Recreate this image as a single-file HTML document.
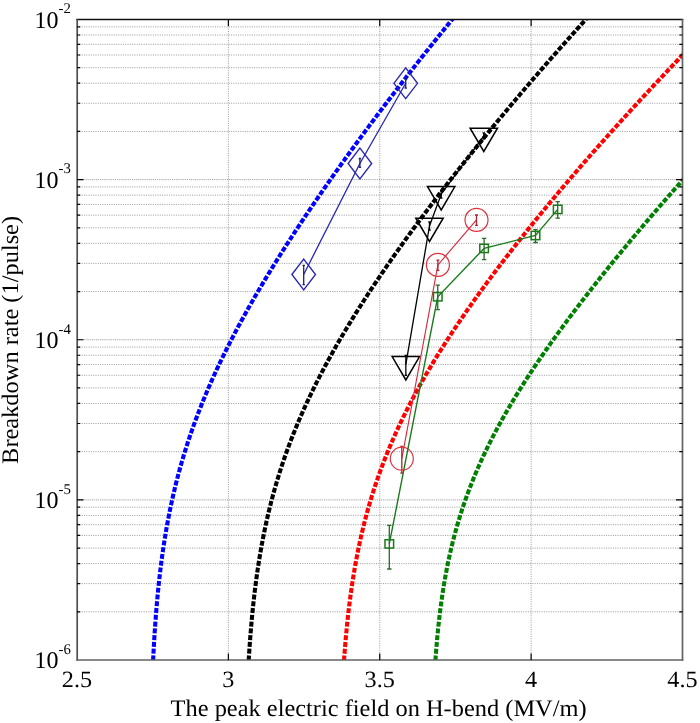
<!DOCTYPE html>
<html><head><meta charset="utf-8"><style>
html,body{margin:0;padding:0;background:#fff;}
body{width:700px;height:723px;overflow:hidden;}
svg{display:block;}
.gm{stroke:#9a9a9a;stroke-width:1;stroke-dasharray:1 1.3;}
.gM{stroke:#9a9a9a;stroke-width:1;stroke-dasharray:1 0.9;}
.gv{stroke:#9a9a9a;stroke-width:1;stroke-dasharray:1 1.3;}
text{font-family:"Liberation Serif","Times New Roman",serif;fill:#000;text-rendering:geometricPrecision;}
.tk{font-size:23.3px;}
.tk2{font-size:24px;}
.sup{font-size:14.8px;}
.lab{font-size:23.7px;}
</style></head><body>
<svg width="700" height="723" viewBox="0 0 700 723">
<defs><clipPath id="ax"><rect x="77.00" y="19.50" width="605.50" height="640.50"/></clipPath></defs>
<g><line x1="77.0" y1="611.80" x2="682.5" y2="611.80" class="gm"/><line x1="77.0" y1="583.60" x2="682.5" y2="583.60" class="gm"/><line x1="77.0" y1="563.60" x2="682.5" y2="563.60" class="gm"/><line x1="77.0" y1="548.08" x2="682.5" y2="548.08" class="gm"/><line x1="77.0" y1="535.40" x2="682.5" y2="535.40" class="gm"/><line x1="77.0" y1="524.68" x2="682.5" y2="524.68" class="gm"/><line x1="77.0" y1="515.39" x2="682.5" y2="515.39" class="gm"/><line x1="77.0" y1="507.20" x2="682.5" y2="507.20" class="gm"/><line x1="77.0" y1="499.88" x2="682.5" y2="499.88" class="gM"/><line x1="77.0" y1="451.67" x2="682.5" y2="451.67" class="gm"/><line x1="77.0" y1="423.48" x2="682.5" y2="423.48" class="gm"/><line x1="77.0" y1="403.47" x2="682.5" y2="403.47" class="gm"/><line x1="77.0" y1="387.95" x2="682.5" y2="387.95" class="gm"/><line x1="77.0" y1="375.27" x2="682.5" y2="375.27" class="gm"/><line x1="77.0" y1="364.55" x2="682.5" y2="364.55" class="gm"/><line x1="77.0" y1="355.27" x2="682.5" y2="355.27" class="gm"/><line x1="77.0" y1="347.08" x2="682.5" y2="347.08" class="gm"/><line x1="77.0" y1="339.75" x2="682.5" y2="339.75" class="gM"/><line x1="77.0" y1="291.55" x2="682.5" y2="291.55" class="gm"/><line x1="77.0" y1="263.35" x2="682.5" y2="263.35" class="gm"/><line x1="77.0" y1="243.35" x2="682.5" y2="243.35" class="gm"/><line x1="77.0" y1="227.83" x2="682.5" y2="227.83" class="gm"/><line x1="77.0" y1="215.15" x2="682.5" y2="215.15" class="gm"/><line x1="77.0" y1="204.43" x2="682.5" y2="204.43" class="gm"/><line x1="77.0" y1="195.14" x2="682.5" y2="195.14" class="gm"/><line x1="77.0" y1="186.95" x2="682.5" y2="186.95" class="gm"/><line x1="77.0" y1="179.62" x2="682.5" y2="179.62" class="gM"/><line x1="77.0" y1="131.42" x2="682.5" y2="131.42" class="gm"/><line x1="77.0" y1="103.23" x2="682.5" y2="103.23" class="gm"/><line x1="77.0" y1="83.22" x2="682.5" y2="83.22" class="gm"/><line x1="77.0" y1="67.70" x2="682.5" y2="67.70" class="gm"/><line x1="77.0" y1="55.02" x2="682.5" y2="55.02" class="gm"/><line x1="77.0" y1="44.30" x2="682.5" y2="44.30" class="gm"/><line x1="77.0" y1="35.02" x2="682.5" y2="35.02" class="gm"/><line x1="77.0" y1="26.83" x2="682.5" y2="26.83" class="gm"/><line x1="228.38" y1="19.5" x2="228.38" y2="660.0" class="gv"/><line x1="379.75" y1="19.5" x2="379.75" y2="660.0" class="gv"/><line x1="531.12" y1="19.5" x2="531.12" y2="660.0" class="gv"/></g>
<g clip-path="url(#ax)"><g transform="scale(1,1)" fill="none" stroke-width="4.100" stroke-dasharray="5 1.8">
<path d="M151.29,708.04 L151.32,706.98 L151.35,705.93 L151.39,704.88 L151.42,703.82 L151.45,702.77 L151.48,701.71 L151.52,700.66 L151.55,699.61 L151.58,698.55 L151.62,697.50 L151.65,696.45 L151.69,695.39 L151.72,694.34 L151.76,693.28 L151.79,692.23 L151.83,691.18 L151.87,690.12 L151.90,689.07 L151.94,688.02 L151.98,686.96 L152.02,685.91 L152.06,684.85 L152.10,683.80 L152.14,682.75 L152.18,681.69 L152.22,680.64 L152.26,679.59 L152.30,678.53 L152.35,677.48 L152.39,676.42 L152.43,675.37 L152.48,674.32 L152.52,673.26 L152.56,672.21 L152.61,671.16 L152.66,670.10 L152.70,669.05 L152.75,667.99 L152.80,666.94 L152.85,665.89 L152.89,664.83 L152.94,663.78 L152.99,662.73 L153.04,661.67 L153.09,660.62 L153.15,659.56 L153.20,658.51 L153.25,657.46 L153.30,656.40 L153.36,655.35 L153.41,654.30 L153.47,653.24 L153.52,652.19 L153.58,651.13 L153.63,650.08 L153.69,649.03 L153.75,647.97 L153.81,646.92 L153.87,645.87 L153.93,644.81 L153.99,643.76 L154.05,642.70 L154.11,641.65 L154.18,640.60 L154.24,639.54 L154.30,638.49 L154.37,637.44 L154.43,636.38 L154.50,635.33 L154.57,634.27 L154.64,633.22 L154.70,632.17 L154.77,631.11 L154.84,630.06 L154.92,629.01 L154.99,627.95 L155.06,626.90 L155.13,625.84 L155.21,624.79 L155.28,623.74 L155.36,622.68 L155.43,621.63 L155.51,620.58 L155.59,619.52 L155.67,618.47 L155.75,617.41 L155.83,616.36 L155.91,615.31 L155.99,614.25 L156.08,613.20 L156.16,612.15 L156.25,611.09 L156.33,610.04 L156.42,608.98 L156.51,607.93 L156.60,606.88 L156.69,605.82 L156.78,604.77 L156.87,603.72 L156.96,602.66 L157.05,601.61 L157.15,600.55 L157.24,599.50 L157.34,598.45 L157.44,597.39 L157.54,596.34 L157.64,595.29 L157.74,594.23 L157.84,593.18 L157.94,592.12 L158.05,591.07 L158.15,590.02 L158.26,588.96 L158.36,587.91 L158.47,586.86 L158.58,585.80 L158.69,584.75 L158.80,583.69 L158.92,582.64 L159.03,581.59 L159.15,580.53 L159.26,579.48 L159.38,578.43 L159.50,577.37 L159.62,576.32 L159.74,575.26 L159.86,574.21 L159.98,573.16 L160.11,572.10 L160.24,571.05 L160.36,570.00 L160.49,568.94 L160.62,567.89 L160.75,566.83 L160.88,565.78 L161.02,564.73 L161.15,563.67 L161.29,562.62 L161.43,561.57 L161.56,560.51 L161.71,559.46 L161.85,558.40 L161.99,557.35 L162.13,556.30 L162.28,555.24 L162.43,554.19 L162.58,553.14 L162.73,552.08 L162.88,551.03 L163.03,549.97 L163.18,548.92 L163.34,547.87 L163.50,546.81 L163.66,545.76 L163.82,544.71 L163.98,543.65 L164.14,542.60 L164.31,541.54 L164.47,540.49 L164.64,539.44 L164.81,538.38 L164.98,537.33 L165.15,536.28 L165.33,535.22 L165.50,534.17 L165.68,533.11 L165.86,532.06 L166.04,531.01 L166.22,529.95 L166.40,528.90 L166.59,527.85 L166.78,526.79 L166.97,525.74 L167.16,524.68 L167.35,523.63 L167.54,522.58 L167.74,521.52 L167.93,520.47 L168.13,519.42 L168.33,518.36 L168.54,517.31 L168.74,516.25 L168.95,515.20 L169.15,514.15 L169.36,513.09 L169.57,512.04 L169.79,510.99 L170.00,509.93 L170.22,508.88 L170.44,507.82 L170.66,506.77 L170.88,505.72 L171.10,504.66 L171.33,503.61 L171.55,502.56 L171.78,501.50 L172.01,500.45 L172.25,499.39 L172.48,498.34 L172.72,497.29 L172.96,496.23 L173.20,495.18 L173.44,494.13 L173.69,493.07 L173.93,492.02 L174.18,490.96 L174.43,489.91 L174.68,488.86 L174.94,487.80 L175.19,486.75 L175.45,485.70 L175.71,484.64 L175.97,483.59 L176.24,482.53 L176.50,481.48 L176.77,480.43 L177.04,479.37 L177.32,478.32 L177.59,477.27 L177.87,476.21 L178.14,475.16 L178.42,474.10 L178.71,473.05 L178.99,472.00 L179.28,470.94 L179.57,469.89 L179.86,468.84 L180.15,467.78 L180.44,466.73 L180.74,465.67 L181.04,464.62 L181.34,463.57 L181.64,462.51 L181.95,461.46 L182.26,460.40 L182.57,459.35 L182.88,458.30 L183.19,457.24 L183.51,456.19 L183.82,455.14 L184.14,454.08 L184.47,453.03 L184.79,451.97 L185.12,450.92 L185.44,449.87 L185.78,448.81 L186.11,447.76 L186.44,446.71 L186.78,445.65 L187.12,444.60 L187.46,443.54 L187.80,442.49 L188.15,441.44 L188.50,440.38 L188.85,439.33 L189.20,438.28 L189.55,437.22 L189.91,436.17 L190.27,435.11 L190.63,434.06 L190.99,433.01 L191.36,431.95 L191.72,430.90 L192.09,429.85 L192.46,428.79 L192.84,427.74 L193.21,426.68 L193.59,425.63 L193.97,424.58 L194.35,423.52 L194.74,422.47 L195.12,421.42 L195.51,420.36 L195.90,419.31 L196.30,418.25 L196.69,417.20 L197.09,416.15 L197.49,415.09 L197.89,414.04 L198.29,412.99 L198.70,411.93 L199.11,410.88 L199.52,409.82 L199.93,408.77 L200.34,407.72 L200.76,406.66 L201.18,405.61 L201.60,404.56 L202.02,403.50 L202.45,402.45 L202.87,401.39 L203.30,400.34 L203.73,399.29 L204.17,398.23 L204.60,397.18 L205.04,396.13 L205.48,395.07 L205.92,394.02 L206.37,392.96 L206.81,391.91 L207.26,390.86 L207.71,389.80 L208.16,388.75 L208.62,387.70 L209.07,386.64 L209.53,385.59 L209.99,384.53 L210.45,383.48 L210.92,382.43 L211.38,381.37 L211.85,380.32 L212.32,379.27 L212.79,378.21 L213.27,377.16 L213.75,376.10 L214.22,375.05 L214.70,374.00 L215.19,372.94 L215.67,371.89 L216.16,370.84 L216.65,369.78 L217.14,368.73 L217.63,367.67 L218.12,366.62 L218.62,365.57 L219.12,364.51 L219.62,363.46 L220.12,362.41 L220.62,361.35 L221.13,360.30 L221.64,359.24 L222.15,358.19 L222.66,357.14 L223.17,356.08 L223.69,355.03 L224.20,353.98 L224.72,352.92 L225.24,351.87 L225.77,350.81 L226.29,349.76 L226.82,348.71 L227.35,347.65 L227.88,346.60 L228.41,345.55 L228.94,344.49 L229.48,343.44 L230.02,342.38 L230.55,341.33 L231.10,340.28 L231.64,339.22 L232.18,338.17 L232.73,337.12 L233.28,336.06 L233.83,335.01 L234.38,333.95 L234.93,332.90 L235.49,331.85 L236.04,330.79 L236.60,329.74 L237.16,328.69 L237.72,327.63 L238.29,326.58 L238.85,325.52 L239.42,324.47 L239.99,323.42 L240.56,322.36 L241.13,321.31 L241.70,320.26 L242.28,319.20 L242.86,318.15 L243.43,317.09 L244.01,316.04 L244.60,314.99 L245.18,313.93 L245.76,312.88 L246.35,311.83 L246.94,310.77 L247.53,309.72 L248.12,308.66 L248.71,307.61 L249.31,306.56 L249.90,305.50 L250.50,304.45 L251.10,303.40 L251.70,302.34 L252.30,301.29 L252.91,300.23 L253.51,299.18 L254.12,298.13 L254.73,297.07 L255.33,296.02 L255.95,294.97 L256.56,293.91 L257.17,292.86 L257.79,291.80 L258.40,290.75 L259.02,289.70 L259.64,288.64 L260.26,287.59 L260.89,286.54 L261.51,285.48 L262.14,284.43 L262.76,283.37 L263.39,282.32 L264.02,281.27 L264.65,280.21 L265.28,279.16 L265.92,278.11 L266.55,277.05 L267.19,276.00 L267.83,274.94 L268.47,273.89 L269.11,272.84 L269.75,271.78 L270.39,270.73 L271.04,269.68 L271.68,268.62 L272.33,267.57 L272.98,266.51 L273.63,265.46 L274.28,264.41 L274.93,263.35 L275.58,262.30 L276.24,261.25 L276.90,260.19 L277.55,259.14 L278.21,258.08 L278.87,257.03 L279.53,255.98 L280.19,254.92 L280.86,253.87 L281.52,252.82 L282.19,251.76 L282.86,250.71 L283.52,249.65 L284.19,248.60 L284.87,247.55 L285.54,246.49 L286.21,245.44 L286.88,244.39 L287.56,243.33 L288.24,242.28 L288.92,241.22 L289.59,240.17 L290.27,239.12 L290.96,238.06 L291.64,237.01 L292.32,235.96 L293.01,234.90 L293.69,233.85 L294.38,232.79 L295.07,231.74 L295.76,230.69 L296.45,229.63 L297.14,228.58 L297.83,227.53 L298.53,226.47 L299.22,225.42 L299.92,224.36 L300.61,223.31 L301.31,222.26 L302.01,221.20 L302.71,220.15 L303.41,219.10 L304.11,218.04 L304.82,216.99 L305.52,215.93 L306.23,214.88 L306.93,213.83 L307.64,212.77 L308.35,211.72 L309.06,210.66 L309.77,209.61 L310.48,208.56 L311.20,207.50 L311.91,206.45 L312.62,205.40 L313.34,204.34 L314.06,203.29 L314.77,202.23 L315.49,201.18 L316.21,200.13 L316.93,199.07 L317.65,198.02 L318.38,196.97 L319.10,195.91 L319.83,194.86 L320.55,193.80 L321.28,192.75 L322.01,191.70 L322.73,190.64 L323.46,189.59 L324.19,188.54 L324.93,187.48 L325.66,186.43 L326.39,185.37 L327.12,184.32 L327.86,183.27 L328.60,182.21 L329.33,181.16 L330.07,180.11 L330.81,179.05 L331.55,178.00 L332.29,176.94 L333.03,175.89 L333.77,174.84 L334.52,173.78 L335.26,172.73 L336.01,171.68 L336.75,170.62 L337.50,169.57 L338.25,168.51 L339.00,167.46 L339.75,166.41 L340.50,165.35 L341.25,164.30 L342.00,163.25 L342.75,162.19 L343.51,161.14 L344.26,160.08 L345.02,159.03 L345.78,157.98 L346.53,156.92 L347.29,155.87 L348.05,154.82 L348.81,153.76 L349.57,152.71 L350.34,151.65 L351.10,150.60 L351.86,149.55 L352.63,148.49 L353.39,147.44 L354.16,146.39 L354.92,145.33 L355.69,144.28 L356.46,143.22 L357.23,142.17 L358.00,141.12 L358.77,140.06 L359.54,139.01 L360.32,137.96 L361.09,136.90 L361.87,135.85 L362.64,134.79 L363.42,133.74 L364.19,132.69 L364.97,131.63 L365.75,130.58 L366.53,129.53 L367.31,128.47 L368.09,127.42 L368.87,126.36 L369.65,125.31 L370.44,124.26 L371.22,123.20 L372.01,122.15 L372.79,121.10 L373.58,120.04 L374.37,118.99 L375.16,117.93 L375.95,116.88 L376.73,115.83 L377.53,114.77 L378.32,113.72 L379.11,112.67 L379.90,111.61 L380.70,110.56 L381.49,109.50 L382.29,108.45 L383.08,107.40 L383.88,106.34 L384.68,105.29 L385.48,104.24 L386.27,103.18 L387.07,102.13 L387.88,101.07 L388.68,100.02 L389.48,98.97 L390.28,97.91 L391.09,96.86 L391.89,95.81 L392.70,94.75 L393.50,93.70 L394.31,92.64 L395.12,91.59 L395.93,90.54 L396.73,89.48 L397.54,88.43 L398.36,87.38 L399.17,86.32 L399.98,85.27 L400.79,84.21 L401.61,83.16 L402.42,82.11 L403.24,81.05 L404.05,80.00 L404.87,78.95 L405.69,77.89 L406.50,76.84 L407.32,75.78 L408.14,74.73 L408.96,73.68 L409.79,72.62 L410.61,71.57 L411.43,70.52 L412.25,69.46 L413.08,68.41 L413.90,67.35 L414.73,66.30 L415.56,65.25 L416.38,64.19 L417.21,63.14 L418.04,62.09 L418.87,61.03 L419.70,59.98 L420.53,58.92 L421.36,57.87 L422.19,56.82 L423.03,55.76 L423.86,54.71 L424.70,53.66 L425.53,52.60 L426.37,51.55 L427.20,50.49 L428.04,49.44 L428.88,48.39 L429.72,47.33 L430.56,46.28 L431.40,45.23 L432.24,44.17 L433.08,43.12 L433.93,42.06 L434.77,41.01 L435.61,39.96 L436.46,38.90 L437.30,37.85 L438.15,36.80 L439.00,35.74 L439.85,34.69 L440.69,33.63 L441.54,32.58 L442.39,31.53 L443.24,30.47 L444.10,29.42 L444.95,28.37 L445.80,27.31 L446.65,26.26 L447.51,25.20 L448.36,24.15 L449.22,23.10 L450.08,22.04 L450.93,20.99 L451.79,19.94 L452.65,18.88 L453.51,17.83 L454.37,16.77 L455.23,15.72 L456.09,14.67 L456.96,13.61 L457.82,12.56 L458.68,11.51 L459.55,10.45 L460.41,9.40 L461.28,8.34 L462.14,7.29 L463.01,6.24 L463.88,5.18 L464.75,4.13 L465.62,3.08 L466.49,2.02 L467.36,0.97 L468.23,-0.09 L469.10,-1.14 L469.98,-2.19 L470.85,-3.25 L471.73,-4.30 L472.60,-5.35 L473.48,-6.41 L474.35,-7.46 L475.23,-8.52 L476.11,-9.57 L476.99,-10.62 L477.87,-11.68 L478.75,-12.73 L479.63,-13.78 L480.51,-14.84 L481.39,-15.89 L482.28,-16.95 L483.16,-18.00 L484.05,-19.05 L484.93,-20.11 L485.82,-21.16 L486.70,-22.21 L487.59,-23.27 L488.48,-24.32 L489.37,-25.38 L490.26,-26.43 L491.15,-27.48 L492.04,-28.54" stroke="#0000ff"/>
<path d="M246.42,708.04 L246.46,706.98 L246.50,705.93 L246.54,704.88 L246.58,703.82 L246.62,702.77 L246.66,701.71 L246.70,700.66 L246.74,699.61 L246.79,698.55 L246.83,697.50 L246.87,696.45 L246.92,695.39 L246.96,694.34 L247.01,693.28 L247.05,692.23 L247.10,691.18 L247.14,690.12 L247.19,689.07 L247.24,688.02 L247.29,686.96 L247.33,685.91 L247.38,684.85 L247.43,683.80 L247.48,682.75 L247.53,681.69 L247.59,680.64 L247.64,679.59 L247.69,678.53 L247.74,677.48 L247.80,676.42 L247.85,675.37 L247.91,674.32 L247.96,673.26 L248.02,672.21 L248.08,671.16 L248.13,670.10 L248.19,669.05 L248.25,667.99 L248.31,666.94 L248.37,665.89 L248.43,664.83 L248.49,663.78 L248.55,662.73 L248.62,661.67 L248.68,660.62 L248.74,659.56 L248.81,658.51 L248.87,657.46 L248.94,656.40 L249.01,655.35 L249.07,654.30 L249.14,653.24 L249.21,652.19 L249.28,651.13 L249.35,650.08 L249.42,649.03 L249.50,647.97 L249.57,646.92 L249.64,645.87 L249.72,644.81 L249.79,643.76 L249.87,642.70 L249.95,641.65 L250.03,640.60 L250.10,639.54 L250.18,638.49 L250.26,637.44 L250.35,636.38 L250.43,635.33 L250.51,634.27 L250.60,633.22 L250.68,632.17 L250.77,631.11 L250.85,630.06 L250.94,629.01 L251.03,627.95 L251.12,626.90 L251.21,625.84 L251.30,624.79 L251.39,623.74 L251.49,622.68 L251.58,621.63 L251.68,620.58 L251.77,619.52 L251.87,618.47 L251.97,617.41 L252.07,616.36 L252.17,615.31 L252.27,614.25 L252.37,613.20 L252.48,612.15 L252.58,611.09 L252.69,610.04 L252.79,608.98 L252.90,607.93 L253.01,606.88 L253.12,605.82 L253.23,604.77 L253.35,603.72 L253.46,602.66 L253.57,601.61 L253.69,600.55 L253.81,599.50 L253.93,598.45 L254.05,597.39 L254.17,596.34 L254.29,595.29 L254.41,594.23 L254.54,593.18 L254.66,592.12 L254.79,591.07 L254.92,590.02 L255.05,588.96 L255.18,587.91 L255.31,586.86 L255.44,585.80 L255.58,584.75 L255.72,583.69 L255.85,582.64 L255.99,581.59 L256.13,580.53 L256.27,579.48 L256.42,578.43 L256.56,577.37 L256.71,576.32 L256.85,575.26 L257.00,574.21 L257.15,573.16 L257.31,572.10 L257.46,571.05 L257.61,570.00 L257.77,568.94 L257.93,567.89 L258.08,566.83 L258.25,565.78 L258.41,564.73 L258.57,563.67 L258.74,562.62 L258.90,561.57 L259.07,560.51 L259.24,559.46 L259.41,558.40 L259.58,557.35 L259.76,556.30 L259.94,555.24 L260.11,554.19 L260.29,553.14 L260.47,552.08 L260.66,551.03 L260.84,549.97 L261.03,548.92 L261.22,547.87 L261.40,546.81 L261.60,545.76 L261.79,544.71 L261.98,543.65 L262.18,542.60 L262.38,541.54 L262.58,540.49 L262.78,539.44 L262.98,538.38 L263.19,537.33 L263.40,536.28 L263.60,535.22 L263.81,534.17 L264.03,533.11 L264.24,532.06 L264.46,531.01 L264.68,529.95 L264.90,528.90 L265.12,527.85 L265.34,526.79 L265.57,525.74 L265.80,524.68 L266.02,523.63 L266.26,522.58 L266.49,521.52 L266.72,520.47 L266.96,519.42 L267.20,518.36 L267.44,517.31 L267.69,516.25 L267.93,515.20 L268.18,514.15 L268.43,513.09 L268.68,512.04 L268.93,510.99 L269.19,509.93 L269.44,508.88 L269.70,507.82 L269.97,506.77 L270.23,505.72 L270.49,504.66 L270.76,503.61 L271.03,502.56 L271.30,501.50 L271.58,500.45 L271.85,499.39 L272.13,498.34 L272.41,497.29 L272.70,496.23 L272.98,495.18 L273.27,494.13 L273.56,493.07 L273.85,492.02 L274.14,490.96 L274.44,489.91 L274.73,488.86 L275.03,487.80 L275.34,486.75 L275.64,485.70 L275.95,484.64 L276.26,483.59 L276.57,482.53 L276.88,481.48 L277.20,480.43 L277.51,479.37 L277.83,478.32 L278.16,477.27 L278.48,476.21 L278.81,475.16 L279.14,474.10 L279.47,473.05 L279.80,472.00 L280.14,470.94 L280.47,469.89 L280.81,468.84 L281.16,467.78 L281.50,466.73 L281.85,465.67 L282.20,464.62 L282.55,463.57 L282.91,462.51 L283.26,461.46 L283.62,460.40 L283.98,459.35 L284.35,458.30 L284.71,457.24 L285.08,456.19 L285.45,455.14 L285.82,454.08 L286.20,453.03 L286.58,451.97 L286.96,450.92 L287.34,449.87 L287.72,448.81 L288.11,447.76 L288.50,446.71 L288.89,445.65 L289.28,444.60 L289.68,443.54 L290.08,442.49 L290.48,441.44 L290.88,440.38 L291.29,439.33 L291.70,438.28 L292.11,437.22 L292.52,436.17 L292.94,435.11 L293.35,434.06 L293.77,433.01 L294.20,431.95 L294.62,430.90 L295.05,429.85 L295.48,428.79 L295.91,427.74 L296.34,426.68 L296.78,425.63 L297.22,424.58 L297.66,423.52 L298.10,422.47 L298.55,421.42 L298.99,420.36 L299.44,419.31 L299.90,418.25 L300.35,417.20 L300.81,416.15 L301.27,415.09 L301.73,414.04 L302.19,412.99 L302.66,411.93 L303.13,410.88 L303.60,409.82 L304.07,408.77 L304.55,407.72 L305.03,406.66 L305.51,405.61 L305.99,404.56 L306.48,403.50 L306.96,402.45 L307.45,401.39 L307.94,400.34 L308.44,399.29 L308.93,398.23 L309.43,397.18 L309.93,396.13 L310.44,395.07 L310.94,394.02 L311.45,392.96 L311.96,391.91 L312.47,390.86 L312.98,389.80 L313.50,388.75 L314.02,387.70 L314.54,386.64 L315.06,385.59 L315.59,384.53 L316.11,383.48 L316.64,382.43 L317.18,381.37 L317.71,380.32 L318.25,379.27 L318.78,378.21 L319.32,377.16 L319.87,376.10 L320.41,375.05 L320.96,374.00 L321.51,372.94 L322.06,371.89 L322.61,370.84 L323.16,369.78 L323.72,368.73 L324.28,367.67 L324.84,366.62 L325.41,365.57 L325.97,364.51 L326.54,363.46 L327.11,362.41 L327.68,361.35 L328.25,360.30 L328.83,359.24 L329.41,358.19 L329.99,357.14 L330.57,356.08 L331.15,355.03 L331.74,353.98 L332.33,352.92 L332.92,351.87 L333.51,350.81 L334.10,349.76 L334.70,348.71 L335.30,347.65 L335.89,346.60 L336.50,345.55 L337.10,344.49 L337.71,343.44 L338.31,342.38 L338.92,341.33 L339.53,340.28 L340.15,339.22 L340.76,338.17 L341.38,337.12 L342.00,336.06 L342.62,335.01 L343.24,333.95 L343.86,332.90 L344.49,331.85 L345.12,330.79 L345.75,329.74 L346.38,328.69 L347.01,327.63 L347.65,326.58 L348.28,325.52 L348.92,324.47 L349.56,323.42 L350.20,322.36 L350.85,321.31 L351.49,320.26 L352.14,319.20 L352.79,318.15 L353.44,317.09 L354.09,316.04 L354.75,314.99 L355.40,313.93 L356.06,312.88 L356.72,311.83 L357.38,310.77 L358.04,309.72 L358.71,308.66 L359.37,307.61 L360.04,306.56 L360.71,305.50 L361.38,304.45 L362.06,303.40 L362.73,302.34 L363.41,301.29 L364.08,300.23 L364.76,299.18 L365.44,298.13 L366.12,297.07 L366.81,296.02 L367.49,294.97 L368.18,293.91 L368.87,292.86 L369.56,291.80 L370.25,290.75 L370.94,289.70 L371.64,288.64 L372.33,287.59 L373.03,286.54 L373.73,285.48 L374.43,284.43 L375.13,283.37 L375.84,282.32 L376.54,281.27 L377.25,280.21 L377.96,279.16 L378.67,278.11 L379.38,277.05 L380.09,276.00 L380.80,274.94 L381.52,273.89 L382.24,272.84 L382.95,271.78 L383.67,270.73 L384.39,269.68 L385.12,268.62 L385.84,267.57 L386.57,266.51 L387.29,265.46 L388.02,264.41 L388.75,263.35 L389.48,262.30 L390.21,261.25 L390.94,260.19 L391.68,259.14 L392.42,258.08 L393.15,257.03 L393.89,255.98 L394.63,254.92 L395.37,253.87 L396.11,252.82 L396.86,251.76 L397.60,250.71 L398.35,249.65 L399.10,248.60 L399.85,247.55 L400.60,246.49 L401.35,245.44 L402.10,244.39 L402.85,243.33 L403.61,242.28 L404.37,241.22 L405.12,240.17 L405.88,239.12 L406.64,238.06 L407.40,237.01 L408.17,235.96 L408.93,234.90 L409.70,233.85 L410.46,232.79 L411.23,231.74 L412.00,230.69 L412.77,229.63 L413.54,228.58 L414.31,227.53 L415.09,226.47 L415.86,225.42 L416.64,224.36 L417.41,223.31 L418.19,222.26 L418.97,221.20 L419.75,220.15 L420.53,219.10 L421.31,218.04 L422.10,216.99 L422.88,215.93 L423.67,214.88 L424.46,213.83 L425.24,212.77 L426.03,211.72 L426.82,210.66 L427.61,209.61 L428.41,208.56 L429.20,207.50 L430.00,206.45 L430.79,205.40 L431.59,204.34 L432.39,203.29 L433.19,202.23 L433.99,201.18 L434.79,200.13 L435.59,199.07 L436.39,198.02 L437.20,196.97 L438.00,195.91 L438.81,194.86 L439.62,193.80 L440.42,192.75 L441.23,191.70 L442.05,190.64 L442.86,189.59 L443.67,188.54 L444.48,187.48 L445.30,186.43 L446.11,185.37 L446.93,184.32 L447.75,183.27 L448.57,182.21 L449.39,181.16 L450.21,180.11 L451.03,179.05 L451.85,178.00 L452.68,176.94 L453.50,175.89 L454.33,174.84 L455.15,173.78 L455.98,172.73 L456.81,171.68 L457.64,170.62 L458.47,169.57 L459.30,168.51 L460.13,167.46 L460.97,166.41 L461.80,165.35 L462.64,164.30 L463.47,163.25 L464.31,162.19 L465.15,161.14 L465.99,160.08 L466.83,159.03 L467.67,157.98 L468.51,156.92 L469.35,155.87 L470.20,154.82 L471.04,153.76 L471.89,152.71 L472.74,151.65 L473.58,150.60 L474.43,149.55 L475.28,148.49 L476.13,147.44 L476.98,146.39 L477.84,145.33 L478.69,144.28 L479.54,143.22 L480.40,142.17 L481.25,141.12 L482.11,140.06 L482.97,139.01 L483.83,137.96 L484.69,136.90 L485.55,135.85 L486.41,134.79 L487.27,133.74 L488.13,132.69 L489.00,131.63 L489.86,130.58 L490.73,129.53 L491.59,128.47 L492.46,127.42 L493.33,126.36 L494.20,125.31 L495.07,124.26 L495.94,123.20 L496.81,122.15 L497.68,121.10 L498.56,120.04 L499.43,118.99 L500.31,117.93 L501.18,116.88 L502.06,115.83 L502.94,114.77 L503.82,113.72 L504.70,112.67 L505.58,111.61 L506.46,110.56 L507.34,109.50 L508.22,108.45 L509.11,107.40 L509.99,106.34 L510.88,105.29 L511.76,104.24 L512.65,103.18 L513.54,102.13 L514.43,101.07 L515.32,100.02 L516.21,98.97 L517.10,97.91 L517.99,96.86 L518.88,95.81 L519.78,94.75 L520.67,93.70 L521.57,92.64 L522.47,91.59 L523.36,90.54 L524.26,89.48 L525.16,88.43 L526.06,87.38 L526.96,86.32 L527.86,85.27 L528.76,84.21 L529.67,83.16 L530.57,82.11 L531.48,81.05 L532.38,80.00 L533.29,78.95 L534.20,77.89 L535.10,76.84 L536.01,75.78 L536.92,74.73 L537.83,73.68 L538.74,72.62 L539.66,71.57 L540.57,70.52 L541.48,69.46 L542.40,68.41 L543.31,67.35 L544.23,66.30 L545.15,65.25 L546.06,64.19 L546.98,63.14 L547.90,62.09 L548.82,61.03 L549.74,59.98 L550.66,58.92 L551.59,57.87 L552.51,56.82 L553.43,55.76 L554.36,54.71 L555.29,53.66 L556.21,52.60 L557.14,51.55 L558.07,50.49 L559.00,49.44 L559.93,48.39 L560.86,47.33 L561.79,46.28 L562.72,45.23 L563.66,44.17 L564.59,43.12 L565.52,42.06 L566.46,41.01 L567.40,39.96 L568.33,38.90 L569.27,37.85 L570.21,36.80 L571.15,35.74 L572.09,34.69 L573.03,33.63 L573.97,32.58 L574.92,31.53 L575.86,30.47 L576.80,29.42 L577.75,28.37 L578.69,27.31 L579.64,26.26 L580.59,25.20 L581.54,24.15 L582.49,23.10 L583.44,22.04 L584.39,20.99 L585.34,19.94 L586.29,18.88 L587.24,17.83 L588.20,16.77 L589.15,15.72 L590.11,14.67 L591.06,13.61 L592.02,12.56 L592.98,11.51 L593.94,10.45 L594.90,9.40 L595.86,8.34 L596.82,7.29 L597.78,6.24 L598.74,5.18 L599.70,4.13 L600.67,3.08 L601.63,2.02 L602.60,0.97 L603.57,-0.09 L604.53,-1.14 L605.50,-2.19 L606.47,-3.25 L607.44,-4.30 L608.41,-5.35 L609.38,-6.41 L610.35,-7.46 L611.33,-8.52 L612.30,-9.57 L613.27,-10.62 L614.25,-11.68 L615.23,-12.73 L616.20,-13.78 L617.18,-14.84 L618.16,-15.89 L619.14,-16.95 L620.12,-18.00 L621.10,-19.05 L622.08,-20.11 L623.06,-21.16 L624.05,-22.21 L625.03,-23.27 L626.01,-24.32 L627.00,-25.38 L627.99,-26.43 L628.97,-27.48 L629.96,-28.54" stroke="#000000"/>
<path d="M341.36,708.04 L341.40,706.98 L341.45,705.93 L341.50,704.88 L341.54,703.82 L341.59,702.77 L341.64,701.71 L341.69,700.66 L341.74,699.61 L341.79,698.55 L341.84,697.50 L341.89,696.45 L341.94,695.39 L341.99,694.34 L342.04,693.28 L342.10,692.23 L342.15,691.18 L342.21,690.12 L342.26,689.07 L342.32,688.02 L342.37,686.96 L342.43,685.91 L342.49,684.85 L342.55,683.80 L342.61,682.75 L342.66,681.69 L342.72,680.64 L342.79,679.59 L342.85,678.53 L342.91,677.48 L342.97,676.42 L343.04,675.37 L343.10,674.32 L343.17,673.26 L343.23,672.21 L343.30,671.16 L343.37,670.10 L343.43,669.05 L343.50,667.99 L343.57,666.94 L343.64,665.89 L343.71,664.83 L343.78,663.78 L343.86,662.73 L343.93,661.67 L344.01,660.62 L344.08,659.56 L344.16,658.51 L344.23,657.46 L344.31,656.40 L344.39,655.35 L344.47,654.30 L344.55,653.24 L344.63,652.19 L344.71,651.13 L344.79,650.08 L344.88,649.03 L344.96,647.97 L345.05,646.92 L345.13,645.87 L345.22,644.81 L345.31,643.76 L345.40,642.70 L345.49,641.65 L345.58,640.60 L345.67,639.54 L345.77,638.49 L345.86,637.44 L345.95,636.38 L346.05,635.33 L346.15,634.27 L346.25,633.22 L346.35,632.17 L346.45,631.11 L346.55,630.06 L346.65,629.01 L346.75,627.95 L346.86,626.90 L346.96,625.84 L347.07,624.79 L347.18,623.74 L347.29,622.68 L347.40,621.63 L347.51,620.58 L347.62,619.52 L347.74,618.47 L347.85,617.41 L347.97,616.36 L348.08,615.31 L348.20,614.25 L348.32,613.20 L348.44,612.15 L348.56,611.09 L348.69,610.04 L348.81,608.98 L348.94,607.93 L349.07,606.88 L349.19,605.82 L349.32,604.77 L349.46,603.72 L349.59,602.66 L349.72,601.61 L349.86,600.55 L349.99,599.50 L350.13,598.45 L350.27,597.39 L350.41,596.34 L350.55,595.29 L350.70,594.23 L350.84,593.18 L350.99,592.12 L351.14,591.07 L351.29,590.02 L351.44,588.96 L351.59,587.91 L351.74,586.86 L351.90,585.80 L352.06,584.75 L352.21,583.69 L352.37,582.64 L352.54,581.59 L352.70,580.53 L352.86,579.48 L353.03,578.43 L353.20,577.37 L353.37,576.32 L353.54,575.26 L353.71,574.21 L353.88,573.16 L354.06,572.10 L354.24,571.05 L354.42,570.00 L354.60,568.94 L354.78,567.89 L354.97,566.83 L355.15,565.78 L355.34,564.73 L355.53,563.67 L355.72,562.62 L355.91,561.57 L356.11,560.51 L356.31,559.46 L356.50,558.40 L356.71,557.35 L356.91,556.30 L357.11,555.24 L357.32,554.19 L357.53,553.14 L357.73,552.08 L357.95,551.03 L358.16,549.97 L358.38,548.92 L358.59,547.87 L358.81,546.81 L359.03,545.76 L359.26,544.71 L359.48,543.65 L359.71,542.60 L359.94,541.54 L360.17,540.49 L360.40,539.44 L360.64,538.38 L360.87,537.33 L361.11,536.28 L361.35,535.22 L361.60,534.17 L361.84,533.11 L362.09,532.06 L362.34,531.01 L362.59,529.95 L362.84,528.90 L363.10,527.85 L363.36,526.79 L363.62,525.74 L363.88,524.68 L364.15,523.63 L364.41,522.58 L364.68,521.52 L364.95,520.47 L365.22,519.42 L365.50,518.36 L365.78,517.31 L366.06,516.25 L366.34,515.20 L366.62,514.15 L366.91,513.09 L367.20,512.04 L367.49,510.99 L367.78,509.93 L368.08,508.88 L368.38,507.82 L368.68,506.77 L368.98,505.72 L369.29,504.66 L369.59,503.61 L369.90,502.56 L370.22,501.50 L370.53,500.45 L370.85,499.39 L371.17,498.34 L371.49,497.29 L371.81,496.23 L372.14,495.18 L372.47,494.13 L372.80,493.07 L373.13,492.02 L373.47,490.96 L373.80,489.91 L374.15,488.86 L374.49,487.80 L374.83,486.75 L375.18,485.70 L375.53,484.64 L375.89,483.59 L376.24,482.53 L376.60,481.48 L376.96,480.43 L377.32,479.37 L377.69,478.32 L378.06,477.27 L378.43,476.21 L378.80,475.16 L379.17,474.10 L379.55,473.05 L379.93,472.00 L380.32,470.94 L380.70,469.89 L381.09,468.84 L381.48,467.78 L381.87,466.73 L382.27,465.67 L382.67,464.62 L383.07,463.57 L383.47,462.51 L383.88,461.46 L384.28,460.40 L384.70,459.35 L385.11,458.30 L385.52,457.24 L385.94,456.19 L386.36,455.14 L386.79,454.08 L387.21,453.03 L387.64,451.97 L388.07,450.92 L388.51,449.87 L388.94,448.81 L389.38,447.76 L389.82,446.71 L390.27,445.65 L390.72,444.60 L391.16,443.54 L391.62,442.49 L392.07,441.44 L392.53,440.38 L392.99,439.33 L393.45,438.28 L393.91,437.22 L394.38,436.17 L394.85,435.11 L395.32,434.06 L395.80,433.01 L396.28,431.95 L396.75,430.90 L397.24,429.85 L397.72,428.79 L398.21,427.74 L398.70,426.68 L399.19,425.63 L399.69,424.58 L400.19,423.52 L400.69,422.47 L401.19,421.42 L401.69,420.36 L402.20,419.31 L402.71,418.25 L403.22,417.20 L403.74,416.15 L404.26,415.09 L404.78,414.04 L405.30,412.99 L405.83,411.93 L406.35,410.88 L406.88,409.82 L407.42,408.77 L407.95,407.72 L408.49,406.66 L409.03,405.61 L409.57,404.56 L410.12,403.50 L410.66,402.45 L411.21,401.39 L411.77,400.34 L412.32,399.29 L412.88,398.23 L413.44,397.18 L414.00,396.13 L414.56,395.07 L415.13,394.02 L415.70,392.96 L416.27,391.91 L416.84,390.86 L417.42,389.80 L418.00,388.75 L418.58,387.70 L419.16,386.64 L419.75,385.59 L420.34,384.53 L420.93,383.48 L421.52,382.43 L422.12,381.37 L422.71,380.32 L423.31,379.27 L423.91,378.21 L424.52,377.16 L425.12,376.10 L425.73,375.05 L426.34,374.00 L426.96,372.94 L427.57,371.89 L428.19,370.84 L428.81,369.78 L429.43,368.73 L430.06,367.67 L430.68,366.62 L431.31,365.57 L431.94,364.51 L432.58,363.46 L433.21,362.41 L433.85,361.35 L434.49,360.30 L435.13,359.24 L435.78,358.19 L436.42,357.14 L437.07,356.08 L437.72,355.03 L438.37,353.98 L439.03,352.92 L439.68,351.87 L440.34,350.81 L441.00,349.76 L441.67,348.71 L442.33,347.65 L443.00,346.60 L443.67,345.55 L444.34,344.49 L445.01,343.44 L445.69,342.38 L446.37,341.33 L447.04,340.28 L447.73,339.22 L448.41,338.17 L449.09,337.12 L449.78,336.06 L450.47,335.01 L451.16,333.95 L451.85,332.90 L452.55,331.85 L453.25,330.79 L453.94,329.74 L454.65,328.69 L455.35,327.63 L456.05,326.58 L456.76,325.52 L457.47,324.47 L458.18,323.42 L458.89,322.36 L459.60,321.31 L460.32,320.26 L461.04,319.20 L461.76,318.15 L462.48,317.09 L463.20,316.04 L463.92,314.99 L464.65,313.93 L465.38,312.88 L466.11,311.83 L466.84,310.77 L467.57,309.72 L468.31,308.66 L469.05,307.61 L469.79,306.56 L470.53,305.50 L471.27,304.45 L472.01,303.40 L472.76,302.34 L473.51,301.29 L474.25,300.23 L475.00,299.18 L475.76,298.13 L476.51,297.07 L477.27,296.02 L478.02,294.97 L478.78,293.91 L479.54,292.86 L480.31,291.80 L481.07,290.75 L481.84,289.70 L482.60,288.64 L483.37,287.59 L484.14,286.54 L484.91,285.48 L485.69,284.43 L486.46,283.37 L487.24,282.32 L488.02,281.27 L488.80,280.21 L489.58,279.16 L490.36,278.11 L491.14,277.05 L491.93,276.00 L492.72,274.94 L493.50,273.89 L494.30,272.84 L495.09,271.78 L495.88,270.73 L496.67,269.68 L497.47,268.62 L498.27,267.57 L499.07,266.51 L499.87,265.46 L500.67,264.41 L501.47,263.35 L502.28,262.30 L503.08,261.25 L503.89,260.19 L504.70,259.14 L505.51,258.08 L506.32,257.03 L507.13,255.98 L507.95,254.92 L508.77,253.87 L509.58,252.82 L510.40,251.76 L511.22,250.71 L512.04,249.65 L512.87,248.60 L513.69,247.55 L514.51,246.49 L515.34,245.44 L516.17,244.39 L517.00,243.33 L517.83,242.28 L518.66,241.22 L519.49,240.17 L520.33,239.12 L521.16,238.06 L522.00,237.01 L522.84,235.96 L523.68,234.90 L524.52,233.85 L525.36,232.79 L526.21,231.74 L527.05,230.69 L527.90,229.63 L528.74,228.58 L529.59,227.53 L530.44,226.47 L531.29,225.42 L532.14,224.36 L533.00,223.31 L533.85,222.26 L534.71,221.20 L535.56,220.15 L536.42,219.10 L537.28,218.04 L538.14,216.99 L539.00,215.93 L539.87,214.88 L540.73,213.83 L541.60,212.77 L542.46,211.72 L543.33,210.66 L544.20,209.61 L545.07,208.56 L545.94,207.50 L546.81,206.45 L547.69,205.40 L548.56,204.34 L549.43,203.29 L550.31,202.23 L551.19,201.18 L552.07,200.13 L552.95,199.07 L553.83,198.02 L554.71,196.97 L555.60,195.91 L556.48,194.86 L557.37,193.80 L558.25,192.75 L559.14,191.70 L560.03,190.64 L560.92,189.59 L561.81,188.54 L562.70,187.48 L563.59,186.43 L564.49,185.37 L565.38,184.32 L566.28,183.27 L567.18,182.21 L568.08,181.16 L568.98,180.11 L569.88,179.05 L570.78,178.00 L571.68,176.94 L572.58,175.89 L573.49,174.84 L574.39,173.78 L575.30,172.73 L576.21,171.68 L577.12,170.62 L578.03,169.57 L578.94,168.51 L579.85,167.46 L580.76,166.41 L581.68,165.35 L582.59,164.30 L583.51,163.25 L584.43,162.19 L585.34,161.14 L586.26,160.08 L587.18,159.03 L588.10,157.98 L589.03,156.92 L589.95,155.87 L590.87,154.82 L591.80,153.76 L592.72,152.71 L593.65,151.65 L594.58,150.60 L595.51,149.55 L596.44,148.49 L597.37,147.44 L598.30,146.39 L599.23,145.33 L600.17,144.28 L601.10,143.22 L602.04,142.17 L602.97,141.12 L603.91,140.06 L604.85,139.01 L605.79,137.96 L606.73,136.90 L607.67,135.85 L608.61,134.79 L609.56,133.74 L610.50,132.69 L611.45,131.63 L612.39,130.58 L613.34,129.53 L614.29,128.47 L615.23,127.42 L616.18,126.36 L617.14,125.31 L618.09,124.26 L619.04,123.20 L619.99,122.15 L620.95,121.10 L621.90,120.04 L622.86,118.99 L623.82,117.93 L624.77,116.88 L625.73,115.83 L626.69,114.77 L627.65,113.72 L628.62,112.67 L629.58,111.61 L630.54,110.56 L631.51,109.50 L632.47,108.45 L633.44,107.40 L634.41,106.34 L635.37,105.29 L636.34,104.24 L637.31,103.18 L638.28,102.13 L639.26,101.07 L640.23,100.02 L641.20,98.97 L642.18,97.91 L643.15,96.86 L644.13,95.81 L645.11,94.75 L646.08,93.70 L647.06,92.64 L648.04,91.59 L649.02,90.54 L650.00,89.48 L650.99,88.43 L651.97,87.38 L652.95,86.32 L653.94,85.27 L654.93,84.21 L655.91,83.16 L656.90,82.11 L657.89,81.05 L658.88,80.00 L659.87,78.95 L660.86,77.89 L661.85,76.84 L662.84,75.78 L663.84,74.73 L664.83,73.68 L665.83,72.62 L666.83,71.57 L667.82,70.52 L668.82,69.46 L669.82,68.41 L670.82,67.35 L671.82,66.30 L672.82,65.25 L673.82,64.19 L674.83,63.14 L675.83,62.09 L676.84,61.03 L677.84,59.98 L678.85,58.92 L679.86,57.87 L680.87,56.82 L681.88,55.76 L682.89,54.71 L683.90,53.66 L684.91,52.60 L685.92,51.55 L686.94,50.49 L687.95,49.44 L688.97,48.39 L689.98,47.33 L691.00,46.28 L692.02,45.23 L693.04,44.17 L694.06,43.12 L695.08,42.06 L696.10,41.01 L697.12,39.96 L698.14,38.90 L699.17,37.85 L700.19,36.80 L701.22,35.74 L702.25,34.69 L703.27,33.63 L704.30,32.58 L705.33,31.53 L706.36,30.47 L707.39,29.42 L708.42,28.37 L709.46,27.31 L710.49,26.26 L711.52,25.20 L712.56,24.15 L713.60,23.10 L714.63,22.04 L715.67,20.99 L716.71,19.94 L717.75,18.88 L718.79,17.83 L719.83,16.77 L720.87,15.72 L721.91,14.67 L722.96,13.61 L724.00,12.56 L725.05,11.51 L726.09,10.45 L727.14,9.40 L728.19,8.34 L729.24,7.29 L730.29,6.24 L731.34,5.18 L732.39,4.13 L733.44,3.08 L734.49,2.02 L735.55,0.97 L736.60,-0.09 L737.66,-1.14 L738.71,-2.19 L739.77,-3.25 L740.83,-4.30 L741.89,-5.35 L742.95,-6.41 L744.01,-7.46 L745.07,-8.52 L746.13,-9.57 L747.20,-10.62 L748.26,-11.68 L749.32,-12.73 L750.39,-13.78 L751.46,-14.84 L752.52,-15.89 L753.59,-16.95 L754.66,-18.00 L755.73,-19.05 L756.80,-20.11 L757.87,-21.16 L758.95,-22.21 L760.02,-23.27 L761.09,-24.32 L762.17,-25.38 L763.24,-26.43 L764.32,-27.48 L765.40,-28.54" stroke="#ff0000"/>
<path d="M432.84,708.04 L432.88,706.98 L432.93,705.93 L432.97,704.88 L433.01,703.82 L433.06,702.77 L433.10,701.71 L433.15,700.66 L433.19,699.61 L433.24,698.55 L433.29,697.50 L433.34,696.45 L433.38,695.39 L433.43,694.34 L433.48,693.28 L433.53,692.23 L433.59,691.18 L433.64,690.12 L433.69,689.07 L433.74,688.02 L433.80,686.96 L433.85,685.91 L433.91,684.85 L433.96,683.80 L434.02,682.75 L434.08,681.69 L434.14,680.64 L434.20,679.59 L434.26,678.53 L434.32,677.48 L434.38,676.42 L434.44,675.37 L434.50,674.32 L434.57,673.26 L434.63,672.21 L434.70,671.16 L434.76,670.10 L434.83,669.05 L434.90,667.99 L434.97,666.94 L435.04,665.89 L435.11,664.83 L435.18,663.78 L435.25,662.73 L435.32,661.67 L435.40,660.62 L435.47,659.56 L435.55,658.51 L435.63,657.46 L435.70,656.40 L435.78,655.35 L435.86,654.30 L435.94,653.24 L436.03,652.19 L436.11,651.13 L436.19,650.08 L436.28,649.03 L436.37,647.97 L436.45,646.92 L436.54,645.87 L436.63,644.81 L436.72,643.76 L436.81,642.70 L436.90,641.65 L437.00,640.60 L437.09,639.54 L437.19,638.49 L437.29,637.44 L437.39,636.38 L437.49,635.33 L437.59,634.27 L437.69,633.22 L437.79,632.17 L437.90,631.11 L438.00,630.06 L438.11,629.01 L438.22,627.95 L438.33,626.90 L438.44,625.84 L438.55,624.79 L438.67,623.74 L438.78,622.68 L438.90,621.63 L439.02,620.58 L439.13,619.52 L439.26,618.47 L439.38,617.41 L439.50,616.36 L439.63,615.31 L439.75,614.25 L439.88,613.20 L440.01,612.15 L440.14,611.09 L440.27,610.04 L440.41,608.98 L440.54,607.93 L440.68,606.88 L440.82,605.82 L440.96,604.77 L441.10,603.72 L441.25,602.66 L441.39,601.61 L441.54,600.55 L441.69,599.50 L441.84,598.45 L441.99,597.39 L442.14,596.34 L442.30,595.29 L442.46,594.23 L442.61,593.18 L442.77,592.12 L442.94,591.07 L443.10,590.02 L443.27,588.96 L443.44,587.91 L443.61,586.86 L443.78,585.80 L443.95,584.75 L444.13,583.69 L444.30,582.64 L444.48,581.59 L444.66,580.53 L444.85,579.48 L445.03,578.43 L445.22,577.37 L445.41,576.32 L445.60,575.26 L445.79,574.21 L445.99,573.16 L446.19,572.10 L446.39,571.05 L446.59,570.00 L446.79,568.94 L447.00,567.89 L447.20,566.83 L447.41,565.78 L447.63,564.73 L447.84,563.67 L448.06,562.62 L448.28,561.57 L448.50,560.51 L448.72,559.46 L448.95,558.40 L449.17,557.35 L449.40,556.30 L449.64,555.24 L449.87,554.19 L450.11,553.14 L450.35,552.08 L450.59,551.03 L450.83,549.97 L451.08,548.92 L451.33,547.87 L451.58,546.81 L451.83,545.76 L452.09,544.71 L452.35,543.65 L452.61,542.60 L452.87,541.54 L453.14,540.49 L453.41,539.44 L453.68,538.38 L453.95,537.33 L454.23,536.28 L454.51,535.22 L454.79,534.17 L455.07,533.11 L455.36,532.06 L455.65,531.01 L455.94,529.95 L456.23,528.90 L456.53,527.85 L456.83,526.79 L457.13,525.74 L457.43,524.68 L457.74,523.63 L458.05,522.58 L458.36,521.52 L458.68,520.47 L459.00,519.42 L459.32,518.36 L459.64,517.31 L459.97,516.25 L460.30,515.20 L460.63,514.15 L460.96,513.09 L461.30,512.04 L461.64,510.99 L461.98,509.93 L462.33,508.88 L462.68,507.82 L463.03,506.77 L463.38,505.72 L463.74,504.66 L464.10,503.61 L464.46,502.56 L464.83,501.50 L465.20,500.45 L465.57,499.39 L465.94,498.34 L466.32,497.29 L466.70,496.23 L467.08,495.18 L467.47,494.13 L467.86,493.07 L468.25,492.02 L468.64,490.96 L469.04,489.91 L469.44,488.86 L469.84,487.80 L470.25,486.75 L470.66,485.70 L471.07,484.64 L471.48,483.59 L471.90,482.53 L472.32,481.48 L472.74,480.43 L473.17,479.37 L473.60,478.32 L474.03,477.27 L474.47,476.21 L474.90,475.16 L475.35,474.10 L475.79,473.05 L476.24,472.00 L476.69,470.94 L477.14,469.89 L477.59,468.84 L478.05,467.78 L478.51,466.73 L478.98,465.67 L479.44,464.62 L479.91,463.57 L480.39,462.51 L480.86,461.46 L481.34,460.40 L481.82,459.35 L482.31,458.30 L482.79,457.24 L483.28,456.19 L483.78,455.14 L484.27,454.08 L484.77,453.03 L485.27,451.97 L485.78,450.92 L486.29,449.87 L486.80,448.81 L487.31,447.76 L487.82,446.71 L488.34,445.65 L488.86,444.60 L489.39,443.54 L489.92,442.49 L490.45,441.44 L490.98,440.38 L491.51,439.33 L492.05,438.28 L492.59,437.22 L493.14,436.17 L493.68,435.11 L494.23,434.06 L494.79,433.01 L495.34,431.95 L495.90,430.90 L496.46,429.85 L497.02,428.79 L497.59,427.74 L498.16,426.68 L498.73,425.63 L499.30,424.58 L499.88,423.52 L500.46,422.47 L501.04,421.42 L501.62,420.36 L502.21,419.31 L502.80,418.25 L503.39,417.20 L503.98,416.15 L504.58,415.09 L505.18,414.04 L505.78,412.99 L506.39,411.93 L507.00,410.88 L507.61,409.82 L508.22,408.77 L508.83,407.72 L509.45,406.66 L510.07,405.61 L510.69,404.56 L511.32,403.50 L511.95,402.45 L512.58,401.39 L513.21,400.34 L513.84,399.29 L514.48,398.23 L515.12,397.18 L515.76,396.13 L516.41,395.07 L517.05,394.02 L517.70,392.96 L518.35,391.91 L519.01,390.86 L519.66,389.80 L520.32,388.75 L520.98,387.70 L521.65,386.64 L522.31,385.59 L522.98,384.53 L523.65,383.48 L524.32,382.43 L524.99,381.37 L525.67,380.32 L526.35,379.27 L527.03,378.21 L527.71,377.16 L528.40,376.10 L529.08,375.05 L529.77,374.00 L530.46,372.94 L531.16,371.89 L531.85,370.84 L532.55,369.78 L533.25,368.73 L533.95,367.67 L534.66,366.62 L535.36,365.57 L536.07,364.51 L536.78,363.46 L537.49,362.41 L538.21,361.35 L538.92,360.30 L539.64,359.24 L540.36,358.19 L541.08,357.14 L541.80,356.08 L542.53,355.03 L543.26,353.98 L543.99,352.92 L544.72,351.87 L545.45,350.81 L546.19,349.76 L546.92,348.71 L547.66,347.65 L548.40,346.60 L549.14,345.55 L549.89,344.49 L550.63,343.44 L551.38,342.38 L552.13,341.33 L552.88,340.28 L553.64,339.22 L554.39,338.17 L555.15,337.12 L555.90,336.06 L556.66,335.01 L557.43,333.95 L558.19,332.90 L558.95,331.85 L559.72,330.79 L560.49,329.74 L561.26,328.69 L562.03,327.63 L562.80,326.58 L563.58,325.52 L564.36,324.47 L565.13,323.42 L565.91,322.36 L566.69,321.31 L567.48,320.26 L568.26,319.20 L569.05,318.15 L569.83,317.09 L570.62,316.04 L571.41,314.99 L572.21,313.93 L573.00,312.88 L573.79,311.83 L574.59,310.77 L575.39,309.72 L576.19,308.66 L576.99,307.61 L577.79,306.56 L578.60,305.50 L579.40,304.45 L580.21,303.40 L581.02,302.34 L581.83,301.29 L582.64,300.23 L583.45,299.18 L584.26,298.13 L585.08,297.07 L585.89,296.02 L586.71,294.97 L587.53,293.91 L588.35,292.86 L589.17,291.80 L590.00,290.75 L590.82,289.70 L591.65,288.64 L592.47,287.59 L593.30,286.54 L594.13,285.48 L594.96,284.43 L595.79,283.37 L596.63,282.32 L597.46,281.27 L598.30,280.21 L599.14,279.16 L599.97,278.11 L600.81,277.05 L601.65,276.00 L602.50,274.94 L603.34,273.89 L604.19,272.84 L605.03,271.78 L605.88,270.73 L606.73,269.68 L607.58,268.62 L608.43,267.57 L609.28,266.51 L610.13,265.46 L610.99,264.41 L611.84,263.35 L612.70,262.30 L613.55,261.25 L614.41,260.19 L615.27,259.14 L616.13,258.08 L617.00,257.03 L617.86,255.98 L618.72,254.92 L619.59,253.87 L620.46,252.82 L621.32,251.76 L622.19,250.71 L623.06,249.65 L623.93,248.60 L624.80,247.55 L625.68,246.49 L626.55,245.44 L627.43,244.39 L628.30,243.33 L629.18,242.28 L630.06,241.22 L630.94,240.17 L631.82,239.12 L632.70,238.06 L633.58,237.01 L634.47,235.96 L635.35,234.90 L636.24,233.85 L637.12,232.79 L638.01,231.74 L638.90,230.69 L639.79,229.63 L640.68,228.58 L641.57,227.53 L642.46,226.47 L643.36,225.42 L644.25,224.36 L645.15,223.31 L646.04,222.26 L646.94,221.20 L647.84,220.15 L648.74,219.10 L649.64,218.04 L650.54,216.99 L651.44,215.93 L652.35,214.88 L653.25,213.83 L654.16,212.77 L655.06,211.72 L655.97,210.66 L656.88,209.61 L657.79,208.56 L658.70,207.50 L659.61,206.45 L660.52,205.40 L661.43,204.34 L662.34,203.29 L663.26,202.23 L664.17,201.18 L665.09,200.13 L666.01,199.07 L666.93,198.02 L667.84,196.97 L668.76,195.91 L669.69,194.86 L670.61,193.80 L671.53,192.75 L672.45,191.70 L673.38,190.64 L674.30,189.59 L675.23,188.54 L676.16,187.48 L677.08,186.43 L678.01,185.37 L678.94,184.32 L679.87,183.27 L680.80,182.21 L681.74,181.16 L682.67,180.11 L683.60,179.05 L684.54,178.00 L685.47,176.94 L686.41,175.89 L687.35,174.84 L688.28,173.78 L689.22,172.73 L690.16,171.68 L691.10,170.62 L692.05,169.57 L692.99,168.51 L693.93,167.46 L694.88,166.41 L695.82,165.35 L696.77,164.30 L697.71,163.25 L698.66,162.19 L699.61,161.14 L700.56,160.08 L701.51,159.03 L702.46,157.98 L703.41,156.92 L704.36,155.87 L705.32,154.82 L706.27,153.76 L707.22,152.71 L708.18,151.65 L709.14,150.60 L710.09,149.55 L711.05,148.49 L712.01,147.44 L712.97,146.39 L713.93,145.33 L714.89,144.28 L715.85,143.22 L716.82,142.17 L717.78,141.12 L718.75,140.06 L719.71,139.01 L720.68,137.96 L721.64,136.90 L722.61,135.85 L723.58,134.79 L724.55,133.74 L725.52,132.69 L726.49,131.63 L727.46,130.58 L728.44,129.53 L729.41,128.47 L730.38,127.42 L731.36,126.36 L732.33,125.31 L733.31,124.26 L734.29,123.20 L735.27,122.15 L736.24,121.10 L737.22,120.04 L738.20,118.99 L739.19,117.93 L740.17,116.88 L741.15,115.83 L742.13,114.77 L743.12,113.72 L744.10,112.67 L745.09,111.61 L746.08,110.56 L747.06,109.50 L748.05,108.45 L749.04,107.40 L750.03,106.34 L751.02,105.29 L752.01,104.24 L753.01,103.18 L754.00,102.13 L754.99,101.07 L755.99,100.02 L756.98,98.97 L757.98,97.91 L758.97,96.86 L759.97,95.81 L760.97,94.75 L761.97,93.70 L762.97,92.64 L763.97,91.59 L764.97,90.54 L765.97,89.48 L766.98,88.43 L767.98,87.38 L768.98,86.32 L769.99,85.27 L771.00,84.21 L772.00,83.16 L773.01,82.11 L774.02,81.05 L775.03,80.00 L776.04,78.95 L777.05,77.89 L778.06,76.84 L779.07,75.78 L780.08,74.73 L781.10,73.68 L782.11,72.62 L783.13,71.57 L784.14,70.52 L785.16,69.46 L786.18,68.41 L787.20,67.35 L788.22,66.30 L789.24,65.25 L790.26,64.19 L791.28,63.14 L792.30,62.09 L793.32,61.03 L794.35,59.98 L795.37,58.92 L796.40,57.87 L797.42,56.82 L798.45,55.76 L799.47,54.71 L800.50,53.66 L801.53,52.60 L802.56,51.55 L803.59,50.49 L804.62,49.44 L805.66,48.39 L806.69,47.33 L807.72,46.28 L808.76,45.23 L809.79,44.17 L810.83,43.12 L811.86,42.06 L812.90,41.01 L813.94,39.96 L814.98,38.90 L816.02,37.85 L817.06,36.80 L818.10,35.74 L819.14,34.69 L820.18,33.63 L821.23,32.58 L822.27,31.53 L823.32,30.47 L824.36,29.42 L825.41,28.37 L826.46,27.31 L827.50,26.26 L828.55,25.20 L829.60,24.15 L830.65,23.10 L831.70,22.04 L832.75,20.99 L833.81,19.94 L834.86,18.88 L835.91,17.83 L836.97,16.77 L838.03,15.72 L839.08,14.67 L840.14,13.61 L841.20,12.56 L842.26,11.51 L843.31,10.45 L844.37,9.40 L845.44,8.34 L846.50,7.29 L847.56,6.24 L848.62,5.18 L849.69,4.13 L850.75,3.08 L851.82,2.02 L852.88,0.97 L853.95,-0.09 L855.02,-1.14 L856.09,-2.19 L857.16,-3.25 L858.23,-4.30 L859.30,-5.35 L860.37,-6.41 L861.44,-7.46 L862.52,-8.52 L863.59,-9.57 L864.66,-10.62 L865.74,-11.68 L866.82,-12.73 L867.89,-13.78 L868.97,-14.84 L870.05,-15.89 L871.13,-16.95 L872.21,-18.00 L873.29,-19.05 L874.37,-20.11 L875.46,-21.16 L876.54,-22.21 L877.62,-23.27 L878.71,-24.32 L879.79,-25.38 L880.88,-26.43 L881.97,-27.48 L883.05,-28.54" stroke="#008000"/>
</g></g>
<g><polyline points="303.7,274.5 359.9,163.5 405.7,83.3" fill="none" stroke="#2626b4" stroke-width="1.3"/><path d="M303.70,265.40 V284.60 M302.50,265.40 H304.90 M302.50,284.60 H304.90" stroke="#202070" stroke-width="1.3" fill="none"/><path d="M291.90,274.50 L303.70,259.10 L315.50,274.50 L303.70,289.90 Z" fill="none" stroke="#2626b4" stroke-width="1.35"/><path d="M359.90,158.50 V167.30 M358.70,158.50 H361.10 M358.70,167.30 H361.10" stroke="#202070" stroke-width="1.3" fill="none"/><path d="M348.10,163.50 L359.90,148.10 L371.70,163.50 L359.90,178.90 Z" fill="none" stroke="#2626b4" stroke-width="1.35"/><path d="M405.70,78.50 V88.00 M404.50,78.50 H406.90 M404.50,88.00 H406.90" stroke="#202070" stroke-width="1.3" fill="none"/><path d="M393.90,83.30 L405.70,67.90 L417.50,83.30 L405.70,98.70 Z" fill="none" stroke="#2626b4" stroke-width="1.35"/><polyline points="405.85,364.4 429.5,225.9 441.2,194.2 483.8,136.0" fill="none" stroke="#000" stroke-width="1.3"/><path d="M405.85,355.40 V375.40 M404.65,355.40 H407.05 M404.65,375.40 H407.05" stroke="#000" stroke-width="1.3" fill="none"/><path d="M392.15,356.60 L419.55,356.60 L405.85,379.90 Z" fill="none" stroke="#000" stroke-width="1.5" stroke-linejoin="miter"/><path d="M429.50,222.00 V230.00 M428.30,222.00 H430.70 M428.30,230.00 H430.70" stroke="#000" stroke-width="1.3" fill="none"/><path d="M415.80,218.20 L443.20,218.20 L429.50,241.50 Z" fill="none" stroke="#000" stroke-width="1.5" stroke-linejoin="miter"/><path d="M441.20,191.00 V198.00 M440.00,191.00 H442.40 M440.00,198.00 H442.40" stroke="#000" stroke-width="1.3" fill="none"/><path d="M427.50,186.60 L454.90,186.60 L441.20,209.90 Z" fill="none" stroke="#000" stroke-width="1.5" stroke-linejoin="miter"/><path d="M483.80,133.00 V139.00 M482.60,133.00 H485.00 M482.60,139.00 H485.00" stroke="#000" stroke-width="1.3" fill="none"/><path d="M470.10,128.20 L497.50,128.20 L483.80,151.50 Z" fill="none" stroke="#000" stroke-width="1.5" stroke-linejoin="miter"/><polyline points="401.8,458.7 437.9,264.9 476.5,219.9" fill="none" stroke="#d42c3c" stroke-width="1.15"/><path d="M401.80,446.30 V473.20 M400.30,446.30 H403.30 M400.30,473.20 H403.30" stroke="#b02234" stroke-width="1.3" fill="none"/><circle cx="401.80" cy="458.70" r="11.5" fill="none" stroke="#e0303e" stroke-width="1.2"/><path d="M437.90,260.20 V270.40 M436.40,260.20 H439.40 M436.40,270.40 H439.40" stroke="#b02234" stroke-width="1.3" fill="none"/><circle cx="437.90" cy="264.90" r="11.5" fill="none" stroke="#e0303e" stroke-width="1.2"/><path d="M476.50,215.00 V225.40 M475.00,215.00 H478.00 M475.00,225.40 H478.00" stroke="#b02234" stroke-width="1.3" fill="none"/><circle cx="476.50" cy="219.90" r="11.5" fill="none" stroke="#e0303e" stroke-width="1.2"/><polyline points="389.3,543.9 437.75,296.75 484.1,248.4 535.5,235.5 557.7,209.4" fill="none" stroke="#1a7a1a" stroke-width="1.4"/><path d="M389.30,525.30 V569.00 M387.10,525.30 H391.50 M387.10,569.00 H391.50" stroke="#2a6a2a" stroke-width="1.3" fill="none"/><rect x="385.00" y="539.75" width="8.6" height="8.3" fill="none" stroke="#1a7a1a" stroke-width="1.5"/><path d="M437.75,285.10 V309.60 M435.55,285.10 H439.95 M435.55,309.60 H439.95" stroke="#2a6a2a" stroke-width="1.3" fill="none"/><rect x="433.45" y="292.60" width="8.6" height="8.3" fill="none" stroke="#1a7a1a" stroke-width="1.5"/><path d="M484.10,238.30 V259.60 M481.90,238.30 H486.30 M481.90,259.60 H486.30" stroke="#2a6a2a" stroke-width="1.3" fill="none"/><rect x="479.80" y="244.25" width="8.6" height="8.3" fill="none" stroke="#1a7a1a" stroke-width="1.5"/><path d="M535.50,229.70 V242.50 M533.30,229.70 H537.70 M533.30,242.50 H537.70" stroke="#2a6a2a" stroke-width="1.3" fill="none"/><rect x="531.20" y="231.35" width="8.6" height="8.3" fill="none" stroke="#1a7a1a" stroke-width="1.5"/><path d="M557.70,201.60 V218.20 M555.50,201.60 H559.90 M555.50,218.20 H559.90" stroke="#2a6a2a" stroke-width="1.3" fill="none"/><rect x="553.40" y="205.25" width="8.6" height="8.3" fill="none" stroke="#1a7a1a" stroke-width="1.5"/></g>
<g><line x1="76.2" y1="19.5" x2="683.3" y2="19.5" stroke="#111" stroke-width="1.3"/><line x1="77.2" y1="18.9" x2="77.2" y2="660.8" stroke="#505050" stroke-width="1.7"/><line x1="76.4" y1="660.0" x2="683.3" y2="660.0" stroke="#626262" stroke-width="1.7"/><line x1="682.5" y1="18.9" x2="682.5" y2="660.8" stroke="#626262" stroke-width="1.7"/><path d="M77.0,611.80 h3.2 M682.5,611.80 h-3.2 M77.0,583.60 h3.2 M682.5,583.60 h-3.2 M77.0,563.60 h3.2 M682.5,563.60 h-3.2 M77.0,548.08 h3.2 M682.5,548.08 h-3.2 M77.0,535.40 h3.2 M682.5,535.40 h-3.2 M77.0,524.68 h3.2 M682.5,524.68 h-3.2 M77.0,515.39 h3.2 M682.5,515.39 h-3.2 M77.0,507.20 h3.2 M682.5,507.20 h-3.2 M77.0,499.88 h6.5 M682.5,499.88 h-6.5 M77.0,451.67 h3.2 M682.5,451.67 h-3.2 M77.0,423.48 h3.2 M682.5,423.48 h-3.2 M77.0,403.47 h3.2 M682.5,403.47 h-3.2 M77.0,387.95 h3.2 M682.5,387.95 h-3.2 M77.0,375.27 h3.2 M682.5,375.27 h-3.2 M77.0,364.55 h3.2 M682.5,364.55 h-3.2 M77.0,355.27 h3.2 M682.5,355.27 h-3.2 M77.0,347.08 h3.2 M682.5,347.08 h-3.2 M77.0,339.75 h6.5 M682.5,339.75 h-6.5 M77.0,291.55 h3.2 M682.5,291.55 h-3.2 M77.0,263.35 h3.2 M682.5,263.35 h-3.2 M77.0,243.35 h3.2 M682.5,243.35 h-3.2 M77.0,227.83 h3.2 M682.5,227.83 h-3.2 M77.0,215.15 h3.2 M682.5,215.15 h-3.2 M77.0,204.43 h3.2 M682.5,204.43 h-3.2 M77.0,195.14 h3.2 M682.5,195.14 h-3.2 M77.0,186.95 h3.2 M682.5,186.95 h-3.2 M77.0,179.62 h6.5 M682.5,179.62 h-6.5 M77.0,131.42 h3.2 M682.5,131.42 h-3.2 M77.0,103.23 h3.2 M682.5,103.23 h-3.2 M77.0,83.22 h3.2 M682.5,83.22 h-3.2 M77.0,67.70 h3.2 M682.5,67.70 h-3.2 M77.0,55.02 h3.2 M682.5,55.02 h-3.2 M77.0,44.30 h3.2 M682.5,44.30 h-3.2 M77.0,35.02 h3.2 M682.5,35.02 h-3.2 M77.0,26.83 h3.2 M682.5,26.83 h-3.2 M228.38,660.0 v-6.5 M228.38,19.5 v6.5 M379.75,660.0 v-6.5 M379.75,19.5 v6.5 M531.12,660.0 v-6.5 M531.12,19.5 v6.5" stroke="#000" stroke-width="1.2" fill="none"/></g>
<g><text transform="translate(34.5,27.90)" class="tk2">10<tspan class="sup" dy="-14.6">-2</tspan></text><text transform="translate(34.5,188.03)" class="tk2">10<tspan class="sup" dy="-14.6">-3</tspan></text><text transform="translate(34.5,348.15)" class="tk2">10<tspan class="sup" dy="-14.6">-4</tspan></text><text transform="translate(34.5,508.27)" class="tk2">10<tspan class="sup" dy="-14.6">-5</tspan></text><text transform="translate(34.5,668.40)" class="tk2">10<tspan class="sup" dy="-14.6">-6</tspan></text><text transform="translate(77.00,687.3) scale(1.04,1)" class="tk" text-anchor="middle">2.5</text><text transform="translate(228.38,687.3) scale(1.04,1)" class="tk" text-anchor="middle">3</text><text transform="translate(379.75,687.3) scale(1.04,1)" class="tk" text-anchor="middle">3.5</text><text transform="translate(531.12,687.3) scale(1.04,1)" class="tk" text-anchor="middle">4</text><text transform="translate(682.50,687.3) scale(1.04,1)" class="tk" text-anchor="middle">4.5</text><text transform="translate(378.6,715.6) scale(1.03,1)" class="lab" text-anchor="middle">The peak electric field on H-bend (MV/m)</text><text transform="translate(18.1,339.9) rotate(-90) scale(1.03,1)" class="lab" text-anchor="middle">Breakdown rate (1/pulse)</text></g>
</svg>
</body></html>
